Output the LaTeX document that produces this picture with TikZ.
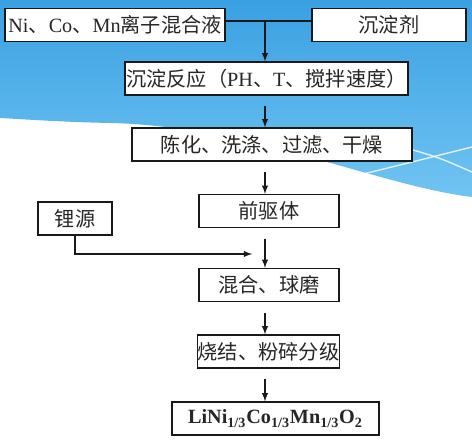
\documentclass[tikz,border=0pt]{standalone}
\usepackage{fontspec}
\setmainfont{Liberation Serif}
\newfontfamily\cjk{Noto Sans CJK SC}
\usepackage{xcolor}
\usetikzlibrary{calc}
\definecolor{skytop}{RGB}{58,160,226}
\definecolor{skybot}{RGB}{112,196,242}
\newcommand{\zh}[1]{{\cjk #1}}
\tikzset{every node/.append style={font=\fontsize{11.5}{13}\selectfont}}

\begin{document}
\begin{tikzpicture}[>=latex, x=0.02cm, y=-0.02cm,
    box/.style={draw=black!90, line width=0.8pt, fill=white, inner sep=0pt, minimum height=0.66cm, text=black!85},
    flow/.style={->, line width=0.6pt, black!90}]
    \useasboundingbox (0,0) rectangle (472,448);
    % background
    \fill[white] (0,0) rectangle (472,448);
    \shade[top color=skytop, bottom color=skybot] (0,0) -- (472,0) -- (472,197)
        .. controls (380,186) and (250,126) .. (110,123) .. controls (60,122) and (20,119) .. (0,118) -- cycle;
    \draw[white, opacity=0.7, line width=0.6pt] (40,126) .. controls (150,124) and (260,140) .. (330,168);
    \draw[white, opacity=0.8, line width=0.8pt] (347,178) .. controls (400,165) .. (472,147);
    \draw[white, opacity=0.8, line width=0.8pt] (413,150) .. controls (440,158) .. (472,172);
    % first row
    \node[box, minimum width=4.4cm] (mix) at (115,25) {Ni\zh{、}Co\zh{、}Mn\zh{离子混合液}};
    \node[box, minimum width=3.08cm] (prec) at (389,25) {\zh{沉淀剂}};
    % process chain
    \node[box, minimum width=5.66cm] (react) at (266.5,78.5) {\zh{沉淀反应（}PH\zh{、}T\zh{、搅拌速度）}};
    \node[box, minimum width=5.6cm] (wash) at (272,144.5) {\zh{陈化、洗涤、过滤、干燥}};
    \node[box, minimum width=2.8cm] (pre) at (269,211) {\zh{前驱体}};
    \node[box, minimum width=1.48cm] (li) at (75,218.5) {\zh{锂源}};
    \node[box, minimum width=2.8cm] (ball) at (269,285) {\zh{混合、球磨}};
    \node[box, minimum width=2.78cm] (sint) at (268.5,351.5) {\zh{烧结、粉碎分级}};
    \node[box, minimum width=4.14cm] (prod) at (275.5,418.5)
        {\bfseries\fontsize{11.5}{14}\selectfont LiNi\textsubscript{1/3}Co\textsubscript{1/3}Mn\textsubscript{1/3}O\textsubscript{2}};
    % junction and lithium inlet
    \coordinate (jn) at (265,21);
    \coordinate (liin) at (252,254);
    % connectors
    \draw[line width=0.6pt, black!90] (mix.east |- jn) -- (prec.west |- jn);
    \draw[flow] (jn) -- (jn |- react.north);
    \foreach \a/\b in {react/wash, wash/pre, pre/ball, ball/sint, sint/prod}
        \draw[flow, shorten <=6] (\a.south -| jn) -- (\b.north -| jn);
    \draw[flow] (li.south) |- (liin);
\end{tikzpicture}
\end{document}
